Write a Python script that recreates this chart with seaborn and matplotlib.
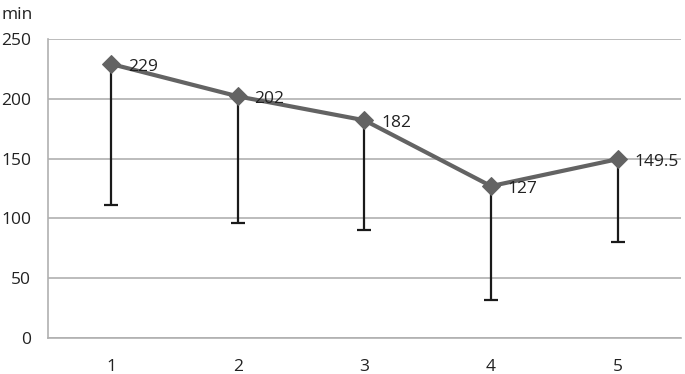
import numpy as np
import pandas as pd
import matplotlib
matplotlib.use('Agg')
import matplotlib.pyplot as plt
import seaborn as sns

sns.set_style('white')
plt.rcParams['font.family'] = ['Open Sans', 'DejaVu Sans']

groups = [1, 2, 3, 4, 5]
values = [229, 202, 182, 127, 149.5]
lower = [111, 96, 90, 32, 80]
labels = ['229', '202', '182', '127', '149.5']

df = pd.DataFrame({'group': groups, 'value': values, 'lower': lower})

fig = plt.figure(figsize=(6.85, 3.74), dpi=100)
ax = fig.add_axes([0.070, 0.096, 0.924, 0.800])

err_low = df['value'] - df['lower']
ax.errorbar(df['group'], df['value'], yerr=[err_low, np.zeros(len(df))],
            fmt='none', ecolor='#1a1a1a', elinewidth=1.6, capsize=5, capthick=1.6, zorder=2)
sns.lineplot(data=df, x='group', y='value', ax=ax, color='#636363', linewidth=3,
             marker='D', markersize=9, markeredgecolor='#636363', zorder=3)

for x, y, t in zip(df['group'], df['value'], labels):
    ax.annotate(t, (x, y), xytext=(12, -2), textcoords='offset points',
                ha='left', va='center', fontsize=12.5, color='#222222')

ax.set_xlim(0.5, 5.5)
ax.set_ylim(0, 250)
ax.set_yticks(range(0, 251, 50))
ax.set_xticks(groups)
ax.yaxis.grid(True, color='#b0b0b0', linewidth=1.2)
ax.set_axisbelow(True)
for s in ['top', 'right']:
    ax.spines[s].set_visible(False)
for s in ['left', 'bottom']:
    ax.spines[s].set_color('#b0b0b0')
    ax.spines[s].set_linewidth(1.2)
ax.tick_params(axis='y', length=0, labelsize=12.5, colors='#222222', pad=12)
ax.tick_params(axis='x', length=0, labelsize=12.5, colors='#222222', pad=15)
ax.set_xlabel('')
ax.set_ylabel('')
fig.text(0.002, 0.96, 'min', fontsize=12.5, color='#222222', ha='left', va='center')

fig.savefig('out.png', dpi=100)
